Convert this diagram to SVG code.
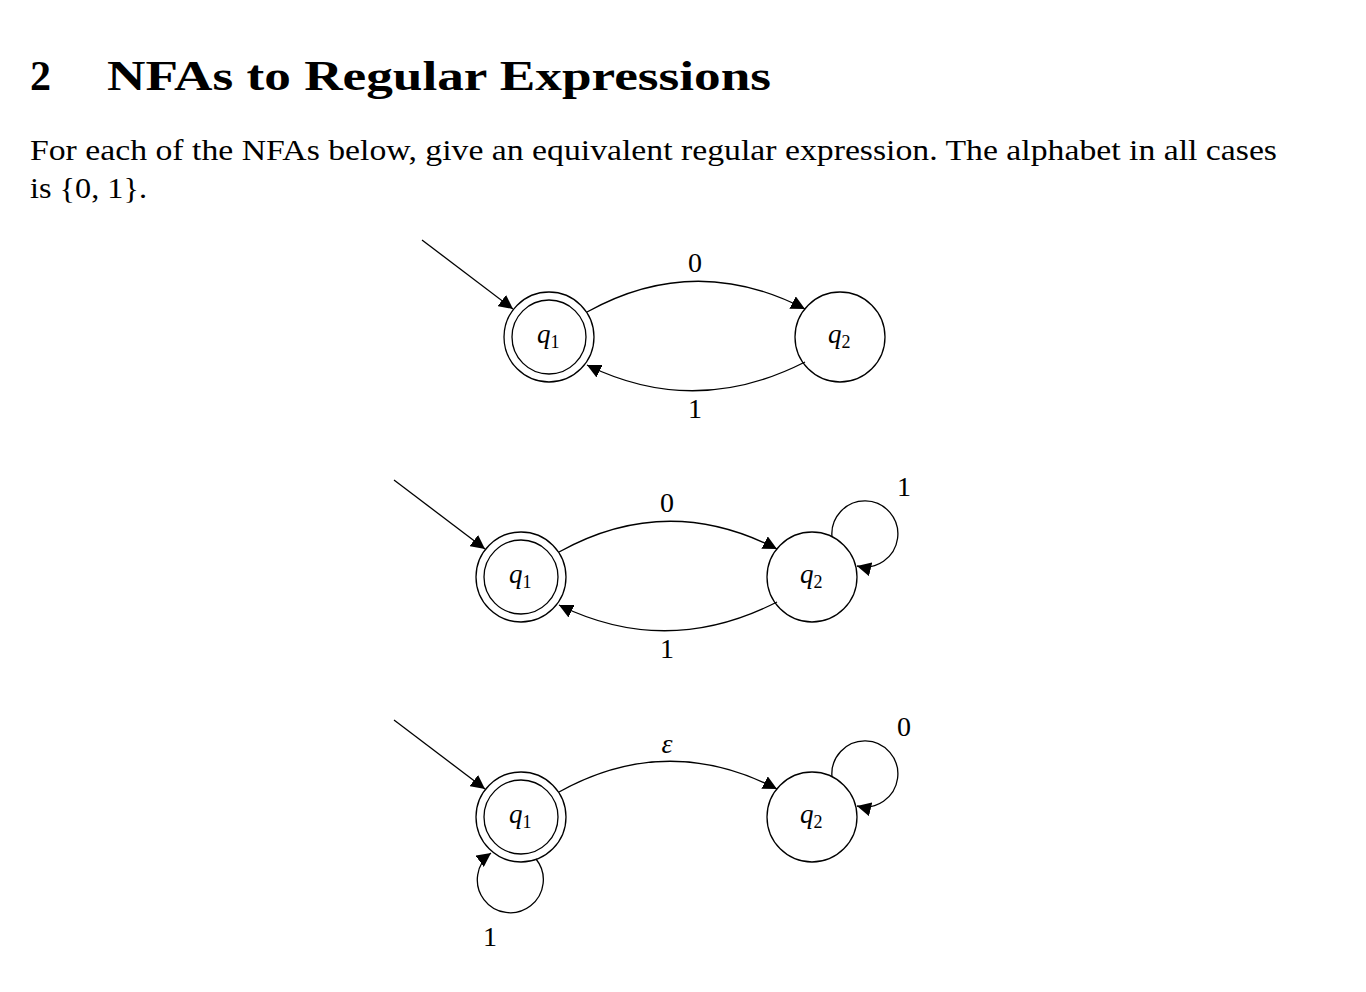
<svg xmlns="http://www.w3.org/2000/svg" width="1366" height="992" viewBox="0 0 1366 992">
<style>
.t{font-family:"Liberation Serif",serif;fill:#000}
.st{fill:none;stroke:#000;stroke-width:1.3}
.q{font-family:"Liberation Serif",serif;font-style:italic;font-size:27px}
.s{font-size:18px;font-style:normal}
.l{font-family:"Liberation Serif",serif;font-size:28px}
</style>
<defs><marker id="a" viewBox="0 0 10 10" refX="10" refY="5" markerWidth="14" markerHeight="14" markerUnits="userSpaceOnUse" orient="auto"><path d="M0,0L10,5L0,10z"/></marker></defs>
<rect width="1366" height="992" fill="#fff"/>
<text class="t" x="30" y="90" font-size="42" font-weight="bold">2</text>
<text class="t" x="107" y="90" font-size="42" font-weight="bold" textLength="664" lengthAdjust="spacingAndGlyphs">NFAs to Regular Expressions</text>
<text class="t" x="30" y="160" font-size="29" textLength="1247" lengthAdjust="spacingAndGlyphs">For each of the NFAs below, give an equivalent regular expression. The alphabet in all cases</text>
<text class="t" x="30" y="198" font-size="29" textLength="117" lengthAdjust="spacingAndGlyphs">is {0, 1}.</text>
<g id="nodes">
<g id="d1q1"><circle class="st" cx="549" cy="337" r="45"/><circle class="st" cx="549" cy="337" r="37"/><text class="q" x="537" y="343">q<tspan class="s" dy="5">1</tspan></text></g>
<g id="d1q2"><circle class="st" cx="840" cy="337" r="45"/><text class="q" x="828" y="343">q<tspan class="s" dy="5">2</tspan></text></g>
<g id="d2q1"><circle class="st" cx="521" cy="577" r="45"/><circle class="st" cx="521" cy="577" r="37"/><text class="q" x="509" y="583">q<tspan class="s" dy="5">1</tspan></text></g>
<g id="d2q2"><circle class="st" cx="812" cy="577" r="45"/><text class="q" x="800" y="583">q<tspan class="s" dy="5">2</tspan></text></g>
<g id="d3q1"><circle class="st" cx="521" cy="817" r="45"/><circle class="st" cx="521" cy="817" r="37"/><text class="q" x="509" y="823">q<tspan class="s" dy="5">1</tspan></text></g>
<g id="d3q2"><circle class="st" cx="812" cy="817" r="45"/><text class="q" x="800" y="823">q<tspan class="s" dy="5">2</tspan></text></g>
</g>
<g id="connectors" class="st">
<path class="st" d="M422,240L513,309" marker-end="url(#a)"/>
<path class="st" d="M587,312Q695,252 805,309" marker-end="url(#a)"/>
<path class="st" d="M805,362Q695,418 587,365" marker-end="url(#a)"/>
<path class="st" d="M394,480L485,549" marker-end="url(#a)"/>
<path class="st" d="M559,552Q667,492 777,549" marker-end="url(#a)"/>
<path class="st" d="M777,602Q667,658 559,605" marker-end="url(#a)"/>
<path class="st" d="M832,537A33,33 0 1 1 857,566" marker-end="url(#a)"/>
<path class="st" d="M394,720L485,789" marker-end="url(#a)"/>
<path class="st" d="M559,792Q667,732 777,789" marker-end="url(#a)"/>
<path class="st" d="M832,777A33,33 0 1 1 857,806" marker-end="url(#a)"/>
<path class="st" d="M536,859A33,33 0 1 1 491,853" marker-end="url(#a)"/>
</g>
<g id="labels">
<text class="l" x="695" y="272" text-anchor="middle">0</text>
<text class="l" x="695" y="418" text-anchor="middle">1</text>
<text class="l" x="667" y="512" text-anchor="middle">0</text>
<text class="l" x="667" y="658" text-anchor="middle">1</text>
<text class="l" x="904" y="496" text-anchor="middle">1</text>
<text class="l" x="667" y="753" text-anchor="middle" font-style="italic">ε</text>
<text class="l" x="904" y="736" text-anchor="middle">0</text>
<text class="l" x="490" y="946" text-anchor="middle">1</text>
</g>
</svg>
